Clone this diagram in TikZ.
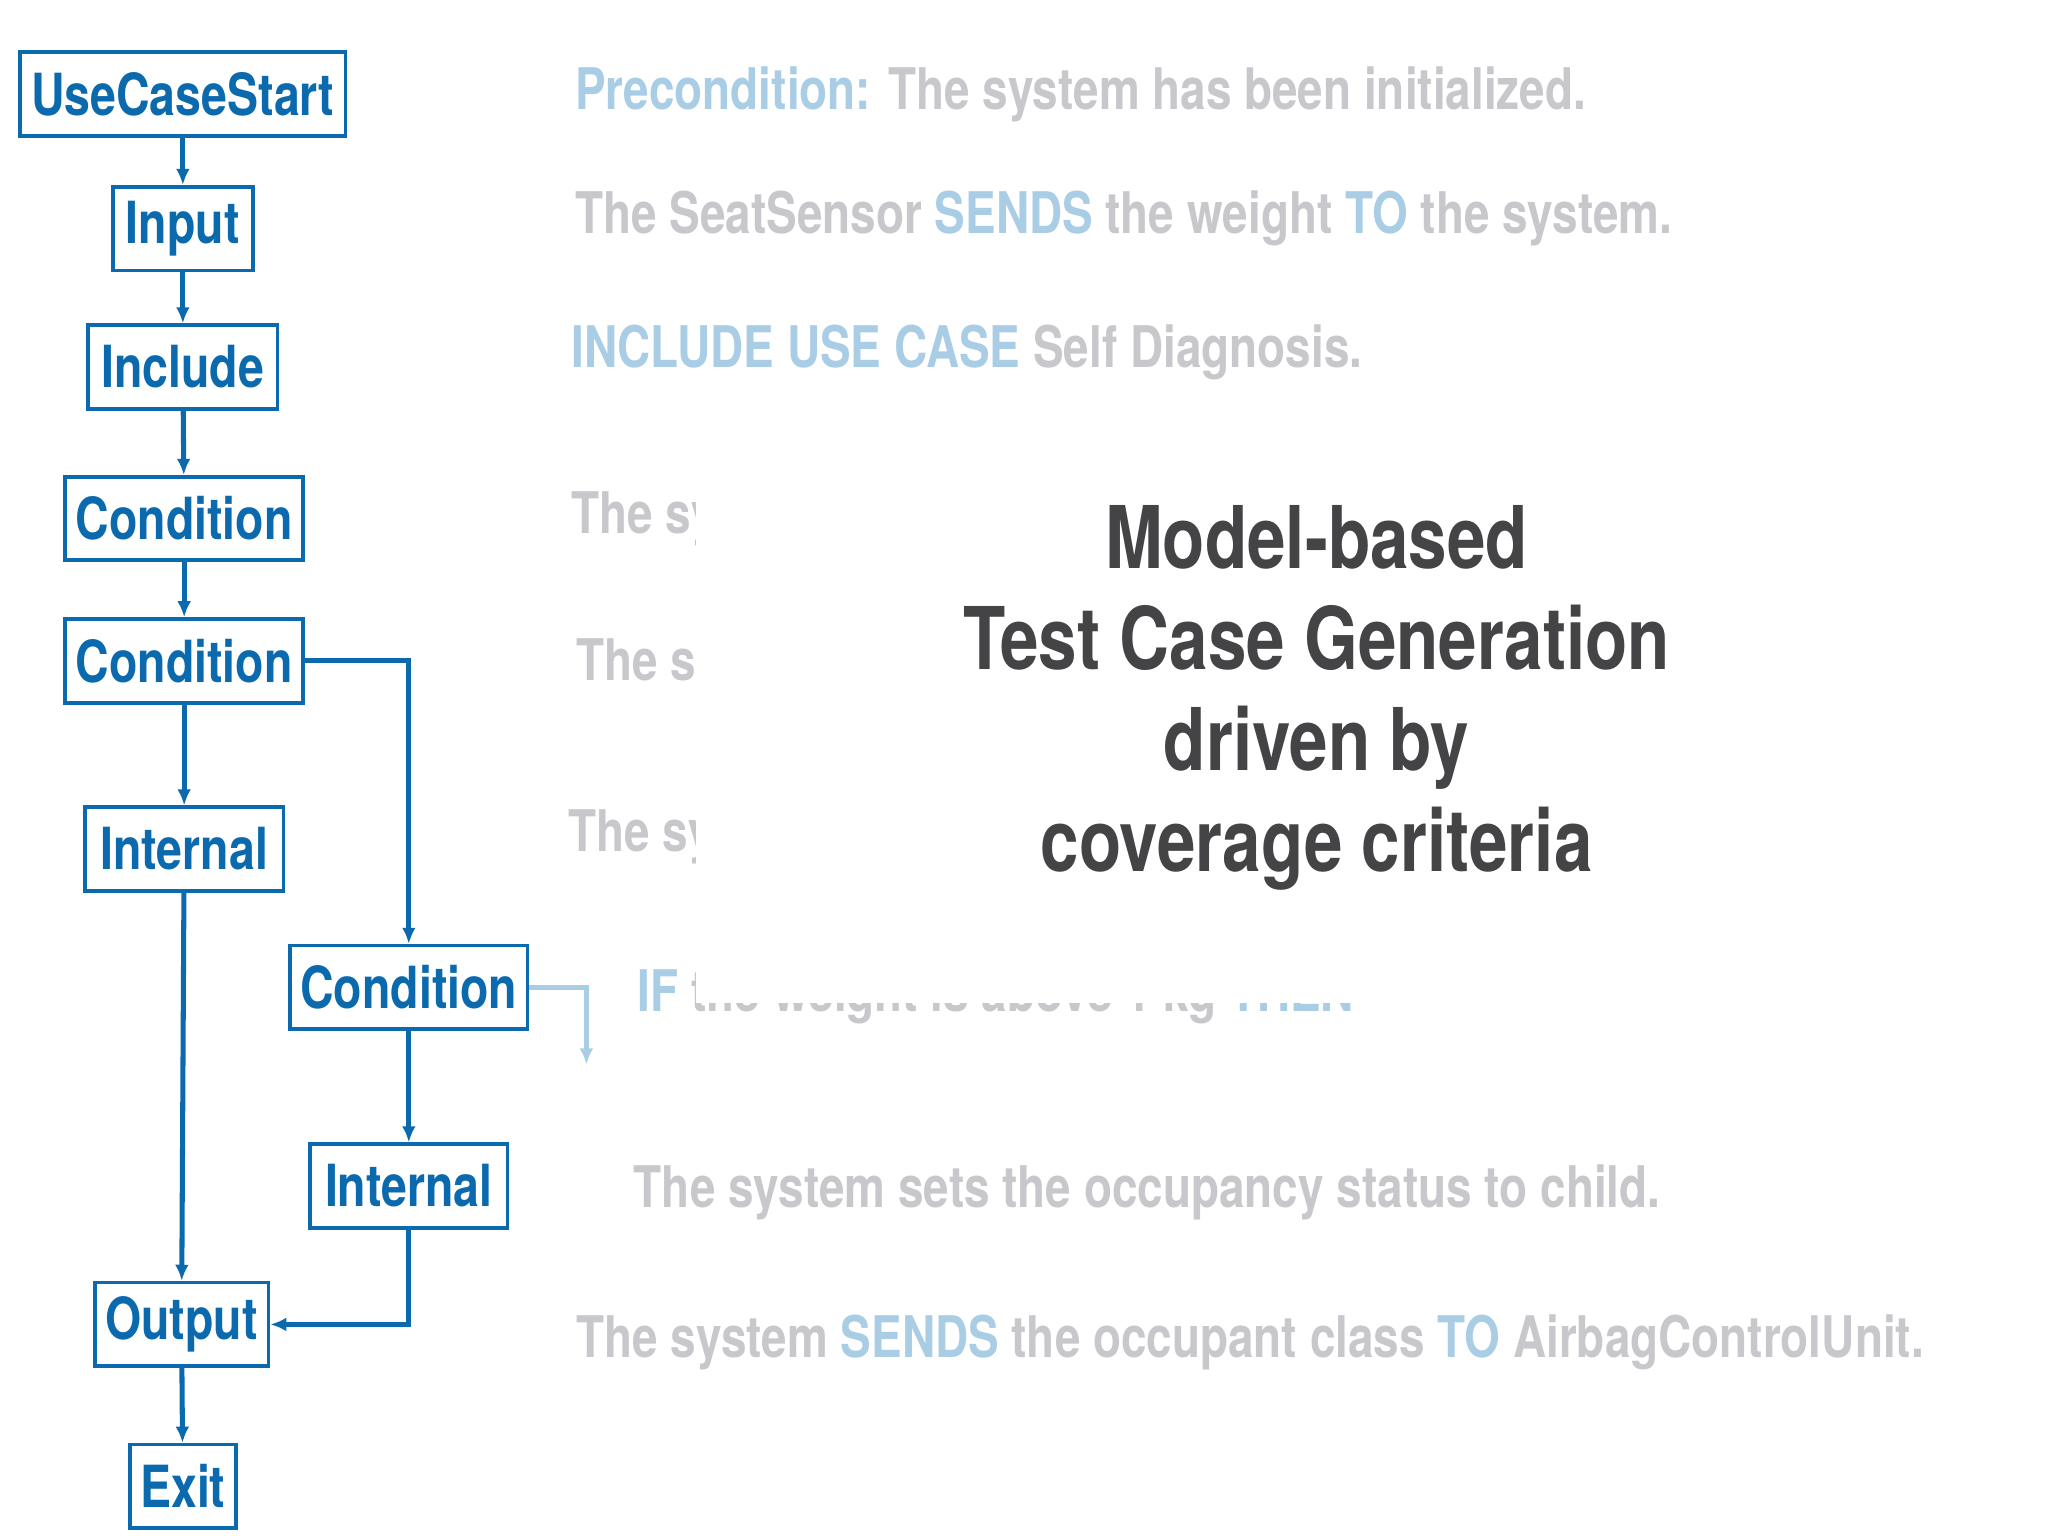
\documentclass[tikz,border=0pt]{standalone}
\usepackage{fontspec}
\usetikzlibrary{arrows.meta}
\setmainfont{TeX Gyre Heros}[FakeStretch=0.8]
\definecolor{bl}{HTML}{0A6AAD}
\definecolor{lb}{HTML}{AACDE6}
\definecolor{gt}{HTML}{C8C8CC}
\definecolor{dg}{HTML}{444446}
\begin{document}
\begin{tikzpicture}[x=0.02cm,y=-0.02cm,
  box/.style={draw=bl,line width=1.6pt,text=bl,font=\fontsize{25.3}{29}\selectfont\bfseries,inner sep=0pt,minimum height=1.28cm},
  con/.style={draw=bl,line width=2.2pt,-{Latex[length=7pt,width=6pt]}},
  txt/.style={anchor=west,text=gt,font=\fontsize{25}{29}\selectfont\bfseries,inner sep=0pt}]
\useasboundingbox (0,0) rectangle (1568,1176);
\fill[white] (0,0) rectangle (1568,1176);
% texts
\node[txt] (t1) at (440,72) {\textcolor{lb}{Precondition:} The system has been initialized.};
\node[txt] (t2) at (440,167) {The SeatSensor \textcolor{lb}{SENDS} the weight \textcolor{lb}{TO} the system.};
\node[txt] (t3) at (437,270) {\textcolor{lb}{INCLUDE USE CASE} Self Diagnosis.};
\node[txt] (t4) at (437,397) {The system};
\node[txt] (t5) at (441,510) {The system};
\node[txt] (t6) at (435,641) {The system};
\node[txt] (t7) at (488,763) {\textcolor{lb}{IF} the weight is above 1 kg \textcolor{lb}{THEN}};
\node[txt] (t8) at (485,913) {The system sets the occupancy status to child.};
\node[txt] (t9) at (441,1028) {The system \textcolor{lb}{SENDS} the occupant class \textcolor{lb}{TO} AirbagControlUnit.};
\fill[white] (533,360) rectangle (1320,768);
\node[text=dg,font=\fontsize{37.7}{44}\selectfont\bfseries,align=center] (title) at (1008,534)
 {Model-based\\Test Case Generation\\driven by\\coverage criteria};
% boxes
\node[box,minimum width=4.98cm] (a) at (140,72) {UseCaseStart};
\node[box,minimum width=2.14cm] (b) at (140,175) {Input};
\node[box,minimum width=2.9cm] (c) at (140,281) {Include};
\node[box,minimum width=3.64cm] (d) at (141,397) {Condition};
\node[box,minimum width=3.64cm] (e) at (141,506) {Condition};
\node[box,minimum width=3.04cm] (f) at (141,650) {Internal};
\node[box,minimum width=3.64cm] (g) at (313,756) {Condition};
\node[box,minimum width=3.02cm] (h) at (313,908) {Internal};
\node[box,minimum width=2.66cm] (i) at (139,1014) {Output};
\node[box,minimum width=1.62cm] (j) at (140,1138) {Exit};
\coordinate (k) at (449,815);
\draw[con] (a) -- (b);
\draw[con] (b) -- (c);
\draw[con] (c) -- (d);
\draw[con] (d) -- (e);
\draw[con] (e) -- (f);
\draw[con] (f) -- (i);
\draw[con] (i) -- (j);
\draw[con] (e.east) -| (g.north);
\draw[con] (g) -- (h);
\draw[con] (h.south) |- (i.east);
\draw[con,draw=lb] (g.east) -| (k);
\end{tikzpicture}
\end{document}
